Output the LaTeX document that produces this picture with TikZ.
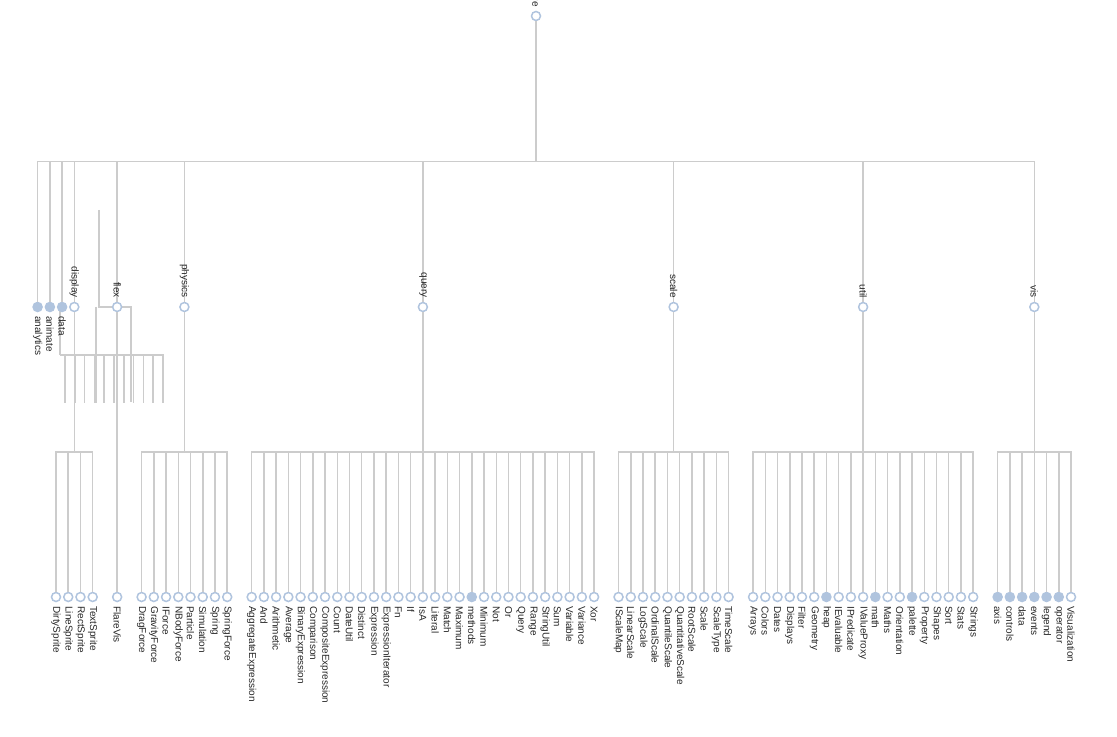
\documentclass[tikz,border=0pt]{standalone}
\usepackage{fontspec}
\setmainfont{Liberation Sans}
\usetikzlibrary{calc}
\definecolor{nodeblue}{HTML}{B0C4DE}
\definecolor{linkgray}{HTML}{CCCCCC}
\newcommand\leafrow[3]{%
  \foreach \t/\f [count=\i from #2] in {#3} {
    \node[\f] (L\i) at ({56+\i*12.229},597) {};
    \node[lf] (T\i) at ($(L\i)+(0,9)$) {\t};
    \draw[lk] (#1) -- (#1 |- b2) -| (L\i);
  }%
}
\begin{document}
\begin{tikzpicture}[x=0.75pt,y=-0.75pt,
  nd/.style={circle,draw=nodeblue,fill=white,line width=1.125pt,minimum size=6.75pt,inner sep=0pt},
  fo/.style={nd,fill=nodeblue},
  lk/.style={draw=linkgray,line width=1.125pt},
  txt/.style={rotate=-90,inner sep=0pt,font=\fontsize{7.5}{9}\selectfont,text=black!85},
  lf/.style={txt,anchor=west},
  il/.style={txt,anchor=east}
]
\useasboundingbox (0,0) rectangle (1117,737);
\coordinate (b1) at (0,161.5);
\coordinate (b2) at (0,452);

% stray (transition) links
\coordinate (s1) at (99,210);
\coordinate (s2) at (131,307);
\coordinate (s3) at (131,402);
\draw[lk] (s1) |- (s2) -- (s3);
\coordinate (s4) at (96,307);
\coordinate (s5) at (96,403);
\draw[lk] (s4) -- (s5);
\coordinate (d0) at (60,307);
\coordinate (d1) at (60,355);
\draw[lk] (d0) -- (d1);
\foreach \k in {0,...,10} {
  \coordinate (dc\k) at ({65+\k*9.8},403);
  \draw[lk] (d1) -| (dc\k);
}

% root
\node[nd] (root) at (536,16) {};
\node[il] (troot) at ($(root)+(0,-9)$) {flare};

% level 1
\node[fo] (analytics) at (37.6,307) {};
\node[fo] (animate) at (49.9,307) {};
\node[fo] (data) at (62.1,307) {};
\node[nd] (display) at (74.3,307) {};
\node[nd] (flex) at (117.1,307) {};
\node[nd] (physics) at (184.4,307) {};
\node[nd] (query) at (422.9,307) {};
\node[nd] (scale) at (673.6,307) {};
\node[nd] (util) at (863.1,307) {};
\node[nd] (vis) at (1034.3,307) {};
\foreach \n in {analytics,animate,data,display,flex,physics,query,scale,util,vis}
  \draw[lk] (root) -- (root |- b1) -| (\n);
\foreach \n in {analytics,animate,data}
  \node[lf] (t\n) at ($(\n)+(0,9)$) {\n};
\foreach \n in {display,flex,physics,query,scale,util,vis}
  \node[il] (t\n) at ($(\n)+(0,-9)$) {\n};

% level 2
\leafrow{display}{0}{DirtySprite/nd,LineSprite/nd,RectSprite/nd,TextSprite/nd}
\leafrow{flex}{5}{FlareVis/nd}
\leafrow{physics}{7}{DragForce/nd,GravityForce/nd,IForce/nd,NBodyForce/nd,Particle/nd,Simulation/nd,Spring/nd,SpringForce/nd}
\leafrow{query}{16}{AggregateExpression/nd,And/nd,Arithmetic/nd,Average/nd,BinaryExpression/nd,Comparison/nd,CompositeExpression/nd,Count/nd,DateUtil/nd,Distinct/nd,Expression/nd,ExpressionIterator/nd,Fn/nd,If/nd,IsA/nd,Literal/nd,Match/nd,Maximum/nd,methods/fo,Minimum/nd,Not/nd,Or/nd,Query/nd,Range/nd,StringUtil/nd,Sum/nd,Variable/nd,Variance/nd,Xor/nd}
\leafrow{scale}{46}{IScaleMap/nd,LinearScale/nd,LogScale/nd,OrdinalScale/nd,QuantileScale/nd,QuantitativeScale/nd,RootScale/nd,Scale/nd,ScaleType/nd,TimeScale/nd}
\leafrow{util}{57}{Arrays/nd,Colors/nd,Dates/nd,Displays/nd,Filter/nd,Geometry/nd,heap/fo,IEvaluable/nd,IPredicate/nd,IValueProxy/nd,math/fo,Maths/nd,Orientation/nd,palette/fo,Property/nd,Shapes/nd,Sort/nd,Stats/nd,Strings/nd}
\leafrow{vis}{77}{axis/fo,controls/fo,data/fo,events/fo,legend/fo,operator/fo,Visualization/nd}
\end{tikzpicture}
\end{document}
